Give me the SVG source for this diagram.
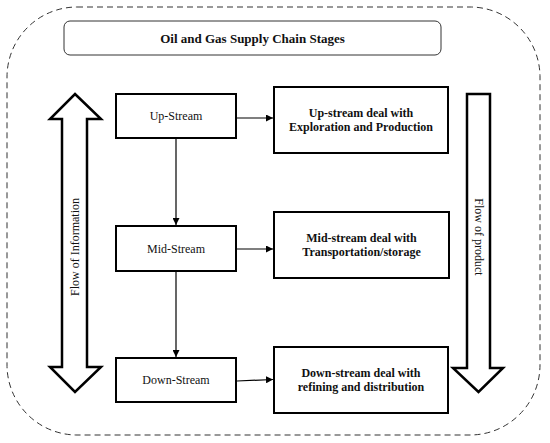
<svg xmlns="http://www.w3.org/2000/svg" width="550" height="443" viewBox="0 0 550 443">
<style>
.box{fill:#fff;stroke:#000;stroke-width:2}
.big{fill:#fff;stroke:#000;stroke-width:2.5;stroke-linejoin:miter}
.t{font-family:"Liberation Serif","DejaVu Serif",serif;font-size:12px;fill:#111;text-anchor:middle}
.b{font-weight:bold}
.c{stroke:#000;stroke-width:1.2;fill:none}
</style>
<defs>
<marker id="ah" viewBox="0 0 10 10" refX="10" refY="5" markerWidth="7" markerHeight="7" markerUnits="userSpaceOnUse" orient="auto">
<path d="M0,0 L10,5 L0,10 z" fill="#000"/>
</marker>
</defs>
<rect x="7" y="7" width="533" height="428" rx="70" ry="70" fill="none" stroke="#333" stroke-width="1" stroke-dasharray="6,4"/>
<g id="title">
<rect x="64" y="21" width="377" height="34" rx="6" fill="#fff" stroke="#333" stroke-width="1"/>
<text class="t b" x="252.5" y="42.5" style="font-size:13px">Oil and Gas Supply Chain Stages</text>
</g>
<g id="flow-info">
<path class="big" d="M75,94 L101,119 L87,119 L87,367 L101,367 L75,392 L50,367 L62,367 L62,119 L50,119 Z"/>
<text class="t" transform="translate(78.5,247) rotate(-90)">Flow of Information</text>
</g>
<g id="flow-product">
<path class="big" d="M467,94 L490,94 L490,368 L503,368 L478.5,392 L453,368 L467,368 Z"/>
<text class="t" transform="translate(474.5,237) rotate(90)">Flow of product</text>
</g>
<g id="upstream">
<rect class="box" x="116" y="94" width="120" height="44"/>
<text class="t" x="176" y="120">Up-Stream</text>
</g>
<g id="midstream">
<rect class="box" x="116" y="226" width="120" height="45"/>
<text class="t" x="176" y="252.5">Mid-Stream</text>
</g>
<g id="downstream">
<rect class="box" x="116" y="358" width="120" height="44"/>
<text class="t" x="176" y="384">Down-Stream</text>
</g>
<g id="up-deal">
<rect class="box" x="274" y="87" width="174" height="66"/>
<text class="t b" x="361" y="117">Up-stream deal with</text>
<text class="t b" x="361" y="131">Exploration and Production</text>
</g>
<g id="mid-deal">
<rect class="box" x="274" y="212" width="175" height="66"/>
<text class="t b" x="361.5" y="242">Mid-stream deal with</text>
<text class="t b" x="361.5" y="256">Transportation/storage</text>
</g>
<g id="down-deal">
<rect class="box" x="274" y="347" width="174" height="66"/>
<text class="t b" x="361" y="377">Down-stream deal with</text>
<text class="t b" x="361" y="391">refining and distribution</text>
</g>
<g id="connectors">
<line class="c" x1="237" y1="118" x2="273" y2="118" marker-end="url(#ah)"/>
<line class="c" x1="237" y1="249" x2="273" y2="249" marker-end="url(#ah)"/>
<line class="c" x1="237" y1="381" x2="273" y2="379.5" marker-end="url(#ah)"/>
<line class="c" x1="176" y1="139" x2="176" y2="225" marker-end="url(#ah)"/>
<line class="c" x1="176" y1="272" x2="176" y2="357" marker-end="url(#ah)"/>
</g>
</svg>
